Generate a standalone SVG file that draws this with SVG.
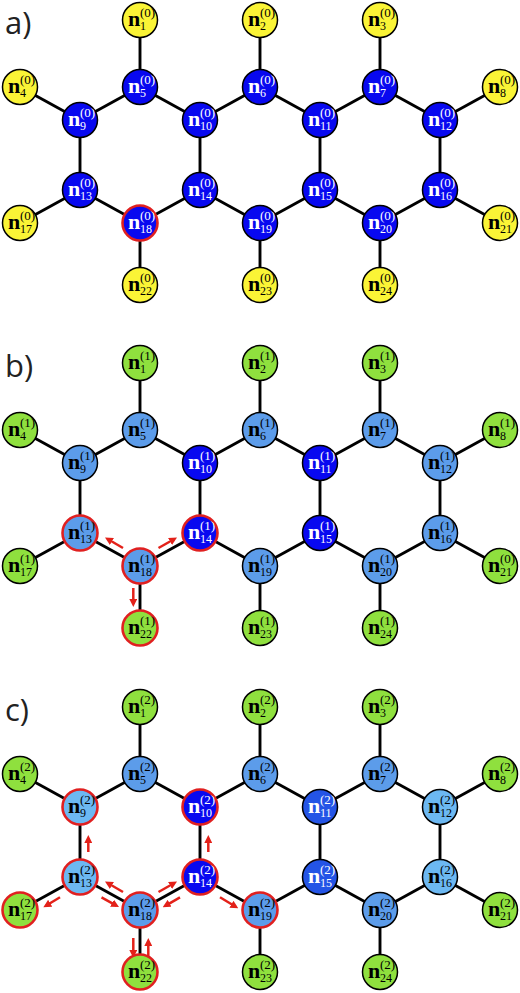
<svg xmlns="http://www.w3.org/2000/svg" width="520" height="993" viewBox="0 0 520 993">
<defs>
<style>
.e line{stroke:#000;stroke-width:2.9}
circle{stroke:#000;stroke-width:1.5}
.Y{fill:#FAF436}.G{fill:#8FE03E}.D{fill:#0808F0}.C{fill:#5C9CEA}.L{fill:#6CB8F2}.R{fill:#2454E6}
circle.red{stroke:#E02020;stroke-width:2.6}
.lb{font-family:"Liberation Serif","Times New Roman",serif;fill:#000}
.w{fill:#fff}
.nb{font-weight:bold;font-size:22px}
.sp{font-size:13px}
.sb{font-size:12px}
.pl{font-family:"Open Sans","Liberation Sans",sans-serif;font-size:31px;fill:#222}
.ar path{stroke:#E32119;stroke-width:2.5;fill:none;marker-end:url(#ah)}
</style>
<marker id="ah" markerUnits="userSpaceOnUse" markerWidth="8" markerHeight="8" refX="5" refY="4" orient="auto"><path d="M0,0 L8,4 L0,8 z" fill="#E32119"/></marker>
</defs>
<rect width="520" height="993" fill="#fff"/>

<text class="pl" x="5" y="34">a)</text>
<text class="pl" x="5" y="377">b)</text>
<text class="pl" x="5" y="721">c)</text>

<!-- Panel a -->
<g id="panel-a">
<g class="e" id="a-edges">
<line x1="140" y1="20" x2="140" y2="87"/><line x1="260" y1="20" x2="260" y2="87"/><line x1="380" y1="20" x2="380" y2="87"/>
<line x1="20" y1="87" x2="80" y2="120"/><line x1="500" y1="87" x2="440" y2="120"/>
<line x1="140" y1="87" x2="80" y2="120"/><line x1="140" y1="87" x2="200" y2="120"/><line x1="260" y1="87" x2="200" y2="120"/><line x1="260" y1="87" x2="320" y2="120"/><line x1="380" y1="87" x2="320" y2="120"/><line x1="380" y1="87" x2="440" y2="120"/>
<line x1="80" y1="120" x2="80" y2="190"/><line x1="200" y1="120" x2="200" y2="190"/><line x1="320" y1="120" x2="320" y2="190"/><line x1="440" y1="120" x2="440" y2="190"/>
<line x1="80" y1="190" x2="140" y2="223"/><line x1="200" y1="190" x2="140" y2="223"/><line x1="200" y1="190" x2="260" y2="223"/><line x1="320" y1="190" x2="260" y2="223"/><line x1="320" y1="190" x2="380" y2="223"/><line x1="440" y1="190" x2="380" y2="223"/>
<line x1="80" y1="190" x2="20" y2="223"/><line x1="440" y1="190" x2="500" y2="223"/>
<line x1="140" y1="223" x2="140" y2="285"/><line x1="260" y1="223" x2="260" y2="285"/><line x1="380" y1="223" x2="380" y2="285"/>
</g>
<g id="a-n1"><circle class="Y" cx="140" cy="20" r="17.5"/><text class="lb" x="128" y="26"><tspan class="nb">n</tspan><tspan class="sp" x="140" y="17">(0)</tspan><tspan class="sb" x="140" y="30">1</tspan></text></g>
<g id="a-n2"><circle class="Y" cx="260" cy="20" r="17.5"/><text class="lb" x="248" y="26"><tspan class="nb">n</tspan><tspan class="sp" x="260" y="17">(0)</tspan><tspan class="sb" x="260" y="30">2</tspan></text></g>
<g id="a-n3"><circle class="Y" cx="380" cy="20" r="17.5"/><text class="lb" x="368" y="26"><tspan class="nb">n</tspan><tspan class="sp" x="380" y="17">(0)</tspan><tspan class="sb" x="380" y="30">3</tspan></text></g>
<g id="a-n4"><circle class="Y" cx="20" cy="87" r="17.5"/><text class="lb" x="8" y="93"><tspan class="nb">n</tspan><tspan class="sp" x="20" y="84">(0)</tspan><tspan class="sb" x="20" y="97">4</tspan></text></g>
<g id="a-n5"><circle class="D" cx="140" cy="87" r="17.5"/><text class="lb w" x="128" y="93"><tspan class="nb">n</tspan><tspan class="sp" x="140" y="84">(0)</tspan><tspan class="sb" x="140" y="97">5</tspan></text></g>
<g id="a-n6"><circle class="D" cx="260" cy="87" r="17.5"/><text class="lb w" x="248" y="93"><tspan class="nb">n</tspan><tspan class="sp" x="260" y="84">(0)</tspan><tspan class="sb" x="260" y="97">6</tspan></text></g>
<g id="a-n7"><circle class="D" cx="380" cy="87" r="17.5"/><text class="lb w" x="368" y="93"><tspan class="nb">n</tspan><tspan class="sp" x="380" y="84">(0)</tspan><tspan class="sb" x="380" y="97">7</tspan></text></g>
<g id="a-n8"><circle class="Y" cx="500" cy="87" r="17.5"/><text class="lb" x="488" y="93"><tspan class="nb">n</tspan><tspan class="sp" x="500" y="84">(0)</tspan><tspan class="sb" x="500" y="97">8</tspan></text></g>
<g id="a-n9"><circle class="D" cx="80" cy="120" r="17.5"/><text class="lb w" x="68" y="126"><tspan class="nb">n</tspan><tspan class="sp" x="80" y="117">(0)</tspan><tspan class="sb" x="80" y="130">9</tspan></text></g>
<g id="a-n10"><circle class="D" cx="200" cy="120" r="17.5"/><text class="lb w" x="188" y="126"><tspan class="nb">n</tspan><tspan class="sp" x="200" y="117">(0)</tspan><tspan class="sb" x="200" y="130">10</tspan></text></g>
<g id="a-n11"><circle class="D" cx="320" cy="120" r="17.5"/><text class="lb w" x="308" y="126"><tspan class="nb">n</tspan><tspan class="sp" x="320" y="117">(0)</tspan><tspan class="sb" x="320" y="130">11</tspan></text></g>
<g id="a-n12"><circle class="D" cx="440" cy="120" r="17.5"/><text class="lb w" x="428" y="126"><tspan class="nb">n</tspan><tspan class="sp" x="440" y="117">(0)</tspan><tspan class="sb" x="440" y="130">12</tspan></text></g>
<g id="a-n13"><circle class="D" cx="80" cy="190" r="17.5"/><text class="lb w" x="68" y="196"><tspan class="nb">n</tspan><tspan class="sp" x="80" y="187">(0)</tspan><tspan class="sb" x="80" y="200">13</tspan></text></g>
<g id="a-n14"><circle class="D" cx="200" cy="190" r="17.5"/><text class="lb w" x="188" y="196"><tspan class="nb">n</tspan><tspan class="sp" x="200" y="187">(0)</tspan><tspan class="sb" x="200" y="200">14</tspan></text></g>
<g id="a-n15"><circle class="D" cx="320" cy="190" r="17.5"/><text class="lb w" x="308" y="196"><tspan class="nb">n</tspan><tspan class="sp" x="320" y="187">(0)</tspan><tspan class="sb" x="320" y="200">15</tspan></text></g>
<g id="a-n16"><circle class="D" cx="440" cy="190" r="17.5"/><text class="lb w" x="428" y="196"><tspan class="nb">n</tspan><tspan class="sp" x="440" y="187">(0)</tspan><tspan class="sb" x="440" y="200">16</tspan></text></g>
<g id="a-n17"><circle class="Y" cx="20" cy="223" r="17.5"/><text class="lb" x="8" y="229"><tspan class="nb">n</tspan><tspan class="sp" x="20" y="220">(0)</tspan><tspan class="sb" x="20" y="233">17</tspan></text></g>
<g id="a-n18"><circle class="D red" cx="140" cy="223" r="17.5"/><text class="lb w" x="128" y="229"><tspan class="nb">n</tspan><tspan class="sp" x="140" y="220">(0)</tspan><tspan class="sb" x="140" y="233">18</tspan></text></g>
<g id="a-n19"><circle class="D" cx="260" cy="223" r="17.5"/><text class="lb w" x="248" y="229"><tspan class="nb">n</tspan><tspan class="sp" x="260" y="220">(0)</tspan><tspan class="sb" x="260" y="233">19</tspan></text></g>
<g id="a-n20"><circle class="D" cx="380" cy="223" r="17.5"/><text class="lb w" x="368" y="229"><tspan class="nb">n</tspan><tspan class="sp" x="380" y="220">(0)</tspan><tspan class="sb" x="380" y="233">20</tspan></text></g>
<g id="a-n21"><circle class="Y" cx="500" cy="223" r="17.5"/><text class="lb" x="488" y="229"><tspan class="nb">n</tspan><tspan class="sp" x="500" y="220">(0)</tspan><tspan class="sb" x="500" y="233">21</tspan></text></g>
<g id="a-n22"><circle class="Y" cx="140" cy="285" r="17.5"/><text class="lb" x="128" y="291"><tspan class="nb">n</tspan><tspan class="sp" x="140" y="282">(0)</tspan><tspan class="sb" x="140" y="295">22</tspan></text></g>
<g id="a-n23"><circle class="Y" cx="260" cy="285" r="17.5"/><text class="lb" x="248" y="291"><tspan class="nb">n</tspan><tspan class="sp" x="260" y="282">(0)</tspan><tspan class="sb" x="260" y="295">23</tspan></text></g>
<g id="a-n24"><circle class="Y" cx="380" cy="285" r="17.5"/><text class="lb" x="368" y="291"><tspan class="nb">n</tspan><tspan class="sp" x="380" y="282">(0)</tspan><tspan class="sb" x="380" y="295">24</tspan></text></g>
</g>

<!-- Panel b -->
<g id="panel-b" transform="translate(0,343)">
<g class="e" id="b-edges">
<line x1="140" y1="20" x2="140" y2="87"/><line x1="260" y1="20" x2="260" y2="87"/><line x1="380" y1="20" x2="380" y2="87"/>
<line x1="20" y1="87" x2="80" y2="120"/><line x1="500" y1="87" x2="440" y2="120"/>
<line x1="140" y1="87" x2="80" y2="120"/><line x1="140" y1="87" x2="200" y2="120"/><line x1="260" y1="87" x2="200" y2="120"/><line x1="260" y1="87" x2="320" y2="120"/><line x1="380" y1="87" x2="320" y2="120"/><line x1="380" y1="87" x2="440" y2="120"/>
<line x1="80" y1="120" x2="80" y2="190"/><line x1="200" y1="120" x2="200" y2="190"/><line x1="320" y1="120" x2="320" y2="190"/><line x1="440" y1="120" x2="440" y2="190"/>
<line x1="80" y1="190" x2="140" y2="223"/><line x1="200" y1="190" x2="140" y2="223"/><line x1="200" y1="190" x2="260" y2="223"/><line x1="320" y1="190" x2="260" y2="223"/><line x1="320" y1="190" x2="380" y2="223"/><line x1="440" y1="190" x2="380" y2="223"/>
<line x1="80" y1="190" x2="20" y2="223"/><line x1="440" y1="190" x2="500" y2="223"/>
<line x1="140" y1="223" x2="140" y2="285"/><line x1="260" y1="223" x2="260" y2="285"/><line x1="380" y1="223" x2="380" y2="285"/>
</g>
<g class="ar" id="b-arrows">
<path d="M123,205 L107.6,196"/>
<path d="M158.5,205 L174.4,196"/>
<path d="M133.3,245 L133.3,261"/>
</g>
<g id="b-n1"><circle class="G" cx="140" cy="20" r="17.5"/><text class="lb" x="128" y="26"><tspan class="nb">n</tspan><tspan class="sp" x="140" y="17">(1)</tspan><tspan class="sb" x="140" y="30">1</tspan></text></g>
<g id="b-n2"><circle class="G" cx="260" cy="20" r="17.5"/><text class="lb" x="248" y="26"><tspan class="nb">n</tspan><tspan class="sp" x="260" y="17">(1)</tspan><tspan class="sb" x="260" y="30">2</tspan></text></g>
<g id="b-n3"><circle class="G" cx="380" cy="20" r="17.5"/><text class="lb" x="368" y="26"><tspan class="nb">n</tspan><tspan class="sp" x="380" y="17">(1)</tspan><tspan class="sb" x="380" y="30">3</tspan></text></g>
<g id="b-n4"><circle class="G" cx="20" cy="87" r="17.5"/><text class="lb" x="8" y="93"><tspan class="nb">n</tspan><tspan class="sp" x="20" y="84">(1)</tspan><tspan class="sb" x="20" y="97">4</tspan></text></g>
<g id="b-n5"><circle class="C" cx="140" cy="87" r="17.5"/><text class="lb" x="128" y="93"><tspan class="nb">n</tspan><tspan class="sp" x="140" y="84">(1)</tspan><tspan class="sb" x="140" y="97">5</tspan></text></g>
<g id="b-n6"><circle class="C" cx="260" cy="87" r="17.5"/><text class="lb" x="248" y="93"><tspan class="nb">n</tspan><tspan class="sp" x="260" y="84">(1)</tspan><tspan class="sb" x="260" y="97">6</tspan></text></g>
<g id="b-n7"><circle class="C" cx="380" cy="87" r="17.5"/><text class="lb" x="368" y="93"><tspan class="nb">n</tspan><tspan class="sp" x="380" y="84">(1)</tspan><tspan class="sb" x="380" y="97">7</tspan></text></g>
<g id="b-n8"><circle class="G" cx="500" cy="87" r="17.5"/><text class="lb" x="488" y="93"><tspan class="nb">n</tspan><tspan class="sp" x="500" y="84">(1)</tspan><tspan class="sb" x="500" y="97">8</tspan></text></g>
<g id="b-n9"><circle class="C" cx="80" cy="120" r="17.5"/><text class="lb" x="68" y="126"><tspan class="nb">n</tspan><tspan class="sp" x="80" y="117">(1)</tspan><tspan class="sb" x="80" y="130">9</tspan></text></g>
<g id="b-n10"><circle class="D" cx="200" cy="120" r="17.5"/><text class="lb w" x="188" y="126"><tspan class="nb">n</tspan><tspan class="sp" x="200" y="117">(1)</tspan><tspan class="sb" x="200" y="130">10</tspan></text></g>
<g id="b-n11"><circle class="D" cx="320" cy="120" r="17.5"/><text class="lb w" x="308" y="126"><tspan class="nb">n</tspan><tspan class="sp" x="320" y="117">(1)</tspan><tspan class="sb" x="320" y="130">11</tspan></text></g>
<g id="b-n12"><circle class="C" cx="440" cy="120" r="17.5"/><text class="lb" x="428" y="126"><tspan class="nb">n</tspan><tspan class="sp" x="440" y="117">(1)</tspan><tspan class="sb" x="440" y="130">12</tspan></text></g>
<g id="b-n13"><circle class="C red" cx="80" cy="190" r="17.5"/><text class="lb" x="68" y="196"><tspan class="nb">n</tspan><tspan class="sp" x="80" y="187">(1)</tspan><tspan class="sb" x="80" y="200">13</tspan></text></g>
<g id="b-n14"><circle class="D red" cx="200" cy="190" r="17.5"/><text class="lb w" x="188" y="196"><tspan class="nb">n</tspan><tspan class="sp" x="200" y="187">(1)</tspan><tspan class="sb" x="200" y="200">14</tspan></text></g>
<g id="b-n15"><circle class="D" cx="320" cy="190" r="17.5"/><text class="lb w" x="308" y="196"><tspan class="nb">n</tspan><tspan class="sp" x="320" y="187">(1)</tspan><tspan class="sb" x="320" y="200">15</tspan></text></g>
<g id="b-n16"><circle class="C" cx="440" cy="190" r="17.5"/><text class="lb" x="428" y="196"><tspan class="nb">n</tspan><tspan class="sp" x="440" y="187">(1)</tspan><tspan class="sb" x="440" y="200">16</tspan></text></g>
<g id="b-n17"><circle class="G" cx="20" cy="223" r="17.5"/><text class="lb" x="8" y="229"><tspan class="nb">n</tspan><tspan class="sp" x="20" y="220">(1)</tspan><tspan class="sb" x="20" y="233">17</tspan></text></g>
<g id="b-n18"><circle class="C red" cx="140" cy="223" r="17.5"/><text class="lb" x="128" y="229"><tspan class="nb">n</tspan><tspan class="sp" x="140" y="220">(1)</tspan><tspan class="sb" x="140" y="233">18</tspan></text></g>
<g id="b-n19"><circle class="C" cx="260" cy="223" r="17.5"/><text class="lb" x="248" y="229"><tspan class="nb">n</tspan><tspan class="sp" x="260" y="220">(1)</tspan><tspan class="sb" x="260" y="233">19</tspan></text></g>
<g id="b-n20"><circle class="C" cx="380" cy="223" r="17.5"/><text class="lb" x="368" y="229"><tspan class="nb">n</tspan><tspan class="sp" x="380" y="220">(1)</tspan><tspan class="sb" x="380" y="233">20</tspan></text></g>
<g id="b-n21"><circle class="G" cx="500" cy="223" r="17.5"/><text class="lb" x="488" y="229"><tspan class="nb">n</tspan><tspan class="sp" x="500" y="220">(0)</tspan><tspan class="sb" x="500" y="233">21</tspan></text></g>
<g id="b-n22"><circle class="G red" cx="140" cy="285" r="17.5"/><text class="lb" x="128" y="291"><tspan class="nb">n</tspan><tspan class="sp" x="140" y="282">(1)</tspan><tspan class="sb" x="140" y="295">22</tspan></text></g>
<g id="b-n23"><circle class="G" cx="260" cy="285" r="17.5"/><text class="lb" x="248" y="291"><tspan class="nb">n</tspan><tspan class="sp" x="260" y="282">(1)</tspan><tspan class="sb" x="260" y="295">23</tspan></text></g>
<g id="b-n24"><circle class="G" cx="380" cy="285" r="17.5"/><text class="lb" x="368" y="291"><tspan class="nb">n</tspan><tspan class="sp" x="380" y="282">(1)</tspan><tspan class="sb" x="380" y="295">24</tspan></text></g>
</g>

<!-- Panel c -->
<g id="panel-c" transform="translate(0,687)">
<g class="e" id="c-edges">
<line x1="140" y1="20" x2="140" y2="87"/><line x1="260" y1="20" x2="260" y2="87"/><line x1="380" y1="20" x2="380" y2="87"/>
<line x1="20" y1="87" x2="80" y2="120"/><line x1="500" y1="87" x2="440" y2="120"/>
<line x1="140" y1="87" x2="80" y2="120"/><line x1="140" y1="87" x2="200" y2="120"/><line x1="260" y1="87" x2="200" y2="120"/><line x1="260" y1="87" x2="320" y2="120"/><line x1="380" y1="87" x2="320" y2="120"/><line x1="380" y1="87" x2="440" y2="120"/>
<line x1="80" y1="120" x2="80" y2="190"/><line x1="200" y1="120" x2="200" y2="190"/><line x1="320" y1="120" x2="320" y2="190"/><line x1="440" y1="120" x2="440" y2="190"/>
<line x1="80" y1="190" x2="140" y2="223"/><line x1="200" y1="190" x2="140" y2="223"/><line x1="200" y1="190" x2="260" y2="223"/><line x1="320" y1="190" x2="260" y2="223"/><line x1="320" y1="190" x2="380" y2="223"/><line x1="440" y1="190" x2="380" y2="223"/>
<line x1="80" y1="190" x2="20" y2="223"/><line x1="440" y1="190" x2="500" y2="223"/>
<line x1="140" y1="223" x2="140" y2="285"/><line x1="260" y1="223" x2="260" y2="285"/><line x1="380" y1="223" x2="380" y2="285"/>
</g>
<g class="ar" id="c-arrows">
<path d="M88.3,165 L88.3,151"/>
<path d="M208.3,165 L208.3,151"/>
<path d="M123,205 L107.6,196"/>
<path d="M101.5,210.3 L116.4,218.6"/>
<path d="M60,210.3 L45.9,218.8"/>
<path d="M158.5,205 L174.4,196"/>
<path d="M180,210.3 L165.3,218.8"/>
<path d="M220,210.3 L235.7,219.8"/>
<path d="M133.3,251 L133.3,268"/>
<path d="M148.3,271 L148.3,254"/>
</g>
<g id="c-n1"><circle class="G" cx="140" cy="20" r="17.5"/><text class="lb" x="128" y="26"><tspan class="nb">n</tspan><tspan class="sp" x="140" y="17">(2)</tspan><tspan class="sb" x="140" y="30">1</tspan></text></g>
<g id="c-n2"><circle class="G" cx="260" cy="20" r="17.5"/><text class="lb" x="248" y="26"><tspan class="nb">n</tspan><tspan class="sp" x="260" y="17">(2)</tspan><tspan class="sb" x="260" y="30">2</tspan></text></g>
<g id="c-n3"><circle class="G" cx="380" cy="20" r="17.5"/><text class="lb" x="368" y="26"><tspan class="nb">n</tspan><tspan class="sp" x="380" y="17">(2)</tspan><tspan class="sb" x="380" y="30">3</tspan></text></g>
<g id="c-n4"><circle class="G" cx="20" cy="87" r="17.5"/><text class="lb" x="8" y="93"><tspan class="nb">n</tspan><tspan class="sp" x="20" y="84">(2)</tspan><tspan class="sb" x="20" y="97">4</tspan></text></g>
<g id="c-n5"><circle class="C" cx="140" cy="87" r="17.5"/><text class="lb" x="128" y="93"><tspan class="nb">n</tspan><tspan class="sp" x="140" y="84">(2)</tspan><tspan class="sb" x="140" y="97">5</tspan></text></g>
<g id="c-n6"><circle class="C" cx="260" cy="87" r="17.5"/><text class="lb" x="248" y="93"><tspan class="nb">n</tspan><tspan class="sp" x="260" y="84">(2)</tspan><tspan class="sb" x="260" y="97">6</tspan></text></g>
<g id="c-n7"><circle class="C" cx="380" cy="87" r="17.5"/><text class="lb" x="368" y="93"><tspan class="nb">n</tspan><tspan class="sp" x="380" y="84">(2)</tspan><tspan class="sb" x="380" y="97">7</tspan></text></g>
<g id="c-n8"><circle class="G" cx="500" cy="87" r="17.5"/><text class="lb" x="488" y="93"><tspan class="nb">n</tspan><tspan class="sp" x="500" y="84">(2)</tspan><tspan class="sb" x="500" y="97">8</tspan></text></g>
<g id="c-n9"><circle class="L red" cx="80" cy="120" r="17.5"/><text class="lb" x="68" y="126"><tspan class="nb">n</tspan><tspan class="sp" x="80" y="117">(2)</tspan><tspan class="sb" x="80" y="130">9</tspan></text></g>
<g id="c-n10"><circle class="D red" cx="200" cy="120" r="17.5"/><text class="lb w" x="188" y="126"><tspan class="nb">n</tspan><tspan class="sp" x="200" y="117">(2)</tspan><tspan class="sb" x="200" y="130">10</tspan></text></g>
<g id="c-n11"><circle class="R" cx="320" cy="120" r="17.5"/><text class="lb w" x="308" y="126"><tspan class="nb">n</tspan><tspan class="sp" x="320" y="117">(2)</tspan><tspan class="sb" x="320" y="130">11</tspan></text></g>
<g id="c-n12"><circle class="L" cx="440" cy="120" r="17.5"/><text class="lb" x="428" y="126"><tspan class="nb">n</tspan><tspan class="sp" x="440" y="117">(2)</tspan><tspan class="sb" x="440" y="130">12</tspan></text></g>
<g id="c-n13"><circle class="L red" cx="80" cy="190" r="17.5"/><text class="lb" x="68" y="196"><tspan class="nb">n</tspan><tspan class="sp" x="80" y="187">(2)</tspan><tspan class="sb" x="80" y="200">13</tspan></text></g>
<g id="c-n14"><circle class="D red" cx="200" cy="190" r="17.5"/><text class="lb w" x="188" y="196"><tspan class="nb">n</tspan><tspan class="sp" x="200" y="187">(2)</tspan><tspan class="sb" x="200" y="200">14</tspan></text></g>
<g id="c-n15"><circle class="R" cx="320" cy="190" r="17.5"/><text class="lb w" x="308" y="196"><tspan class="nb">n</tspan><tspan class="sp" x="320" y="187">(2)</tspan><tspan class="sb" x="320" y="200">15</tspan></text></g>
<g id="c-n16"><circle class="L" cx="440" cy="190" r="17.5"/><text class="lb" x="428" y="196"><tspan class="nb">n</tspan><tspan class="sp" x="440" y="187">(2)</tspan><tspan class="sb" x="440" y="200">16</tspan></text></g>
<g id="c-n17"><circle class="G red" cx="20" cy="223" r="17.5"/><text class="lb" x="8" y="229"><tspan class="nb">n</tspan><tspan class="sp" x="20" y="220">(2)</tspan><tspan class="sb" x="20" y="233">17</tspan></text></g>
<g id="c-n18"><circle class="C red" cx="140" cy="223" r="17.5"/><text class="lb" x="128" y="229"><tspan class="nb">n</tspan><tspan class="sp" x="140" y="220">(2)</tspan><tspan class="sb" x="140" y="233">18</tspan></text></g>
<g id="c-n19"><circle class="C red" cx="260" cy="223" r="17.5"/><text class="lb" x="248" y="229"><tspan class="nb">n</tspan><tspan class="sp" x="260" y="220">(2)</tspan><tspan class="sb" x="260" y="233">19</tspan></text></g>
<g id="c-n20"><circle class="C" cx="380" cy="223" r="17.5"/><text class="lb" x="368" y="229"><tspan class="nb">n</tspan><tspan class="sp" x="380" y="220">(2)</tspan><tspan class="sb" x="380" y="233">20</tspan></text></g>
<g id="c-n21"><circle class="G" cx="500" cy="223" r="17.5"/><text class="lb" x="488" y="229"><tspan class="nb">n</tspan><tspan class="sp" x="500" y="220">(2)</tspan><tspan class="sb" x="500" y="233">21</tspan></text></g>
<g id="c-n22"><circle class="G red" cx="140" cy="285" r="17.5"/><text class="lb" x="128" y="291"><tspan class="nb">n</tspan><tspan class="sp" x="140" y="282">(2)</tspan><tspan class="sb" x="140" y="295">22</tspan></text></g>
<g id="c-n23"><circle class="G" cx="260" cy="285" r="17.5"/><text class="lb" x="248" y="291"><tspan class="nb">n</tspan><tspan class="sp" x="260" y="282">(2)</tspan><tspan class="sb" x="260" y="295">23</tspan></text></g>
<g id="c-n24"><circle class="G" cx="380" cy="285" r="17.5"/><text class="lb" x="368" y="291"><tspan class="nb">n</tspan><tspan class="sp" x="380" y="282">(2)</tspan><tspan class="sb" x="380" y="295">24</tspan></text></g>
</g>
</svg>
